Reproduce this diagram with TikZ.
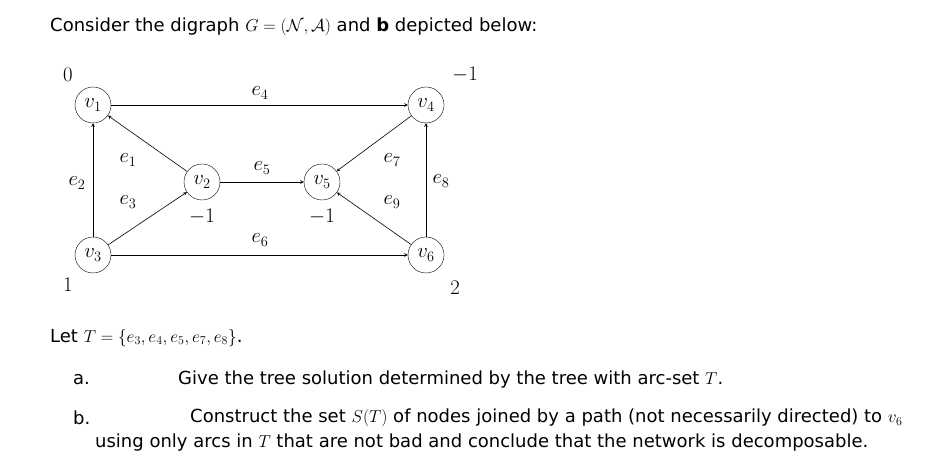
\documentclass[tikz,border=0pt]{standalone}
\usepackage{amsmath,amssymb}
\usepackage{fontspec}
\setmainfont{DejaVu Sans}
\begin{document}
\begin{tikzpicture}[x=1pt,y=-1pt,
  vx/.style={draw,circle,minimum size=36pt,inner sep=0pt,font=\fontsize{20}{22}\selectfont},
  arc/.style={->,>=stealth,semithick},
  lb/.style={font=\fontsize{20}{22}\selectfont},
  tx/.style={anchor=west,font=\fontsize{18}{20}\selectfont,inner sep=0pt}]
\useasboundingbox (0,0) rectangle (939,470);
\node[tx] (t0) at (50,27) {Consider the digraph $G=(\mathcal{N},\mathcal{A})$ and $\mathbf{b}$ depicted below:};
\node[vx] (v1) at (93,105) {$v_1$};
\node[vx] (v4) at (426,105) {$v_4$};
\node[vx] (v2) at (202,182) {$v_2$};
\node[vx] (v5) at (322,182) {$v_5$};
\node[vx] (v3) at (93,255) {$v_3$};
\node[vx] (v6) at (426,255) {$v_6$};
\draw[arc] (v2) -- (v1);
\draw[arc] (v3) -- (v1);
\draw[arc] (v3) -- (v2);
\draw[arc] (v1) -- (v4);
\draw[arc] (v2) -- (v5);
\draw[arc] (v3) -- (v6);
\draw[arc] (v4) -- (v5);
\draw[arc] (v6) -- (v4);
\draw[arc] (v6) -- (v5);
\node[lb] (l0) at (68,75) {$0$};
\node[lb] (lm1) at (465,75) {$-1$};
\node[lb] (l1) at (68,285) {$1$};
\node[lb] (l2) at (455,288) {$2$};
\node[lb] (lv2) at (202,217) {$-1$};
\node[lb] (lv5) at (322,217) {$-1$};
\node[lb] (e4) at (260,93) {$e_4$};
\node[lb] (e1) at (128,160) {$e_1$};
\node[lb] (e2) at (77,183) {$e_2$};
\node[lb] (e3) at (128,202) {$e_3$};
\node[lb] (e5) at (262,168) {$e_5$};
\node[lb] (e7) at (392,160) {$e_7$};
\node[lb] (e8) at (441,181) {$e_8$};
\node[lb] (e9) at (392,202) {$e_9$};
\node[lb] (e6) at (260,240) {$e_6$};
\node[tx] (t1) at (50,338) {Let $T=\{e_3,e_4,e_5,e_7,e_8\}$.};
\node[tx] (a) at (73,380) {a.};
\node[tx] (ta) at (178,380) {Give the tree solution determined by the tree with arc-set $T$.};
\node[tx] (b) at (73,418) {b.};
\node[tx] (tb) at (190,418) {Construct the set $S(T)$ of nodes joined by a path (not necessarily directed) to $v_6$};
\node[tx] (tb2) at (95,443) {using only arcs in $T$ that are not bad and conclude that the network is decomposable.};
\end{tikzpicture}
\end{document}
